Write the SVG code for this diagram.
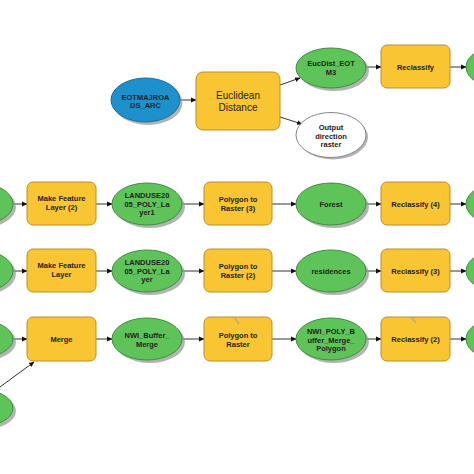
<svg xmlns="http://www.w3.org/2000/svg" width="474" height="474" viewBox="0 0 474 474">
<defs>
<marker id="ah" markerWidth="6" markerHeight="6" refX="5" refY="3" orient="auto" markerUnits="userSpaceOnUse">
<path d="M0,0.6 L5.5,3 L0,5.4 Z" fill="#111"/>
</marker>
</defs>
<style>
.tool{fill:#F9C532;stroke:#B99028;stroke-width:1}
.data{fill:#5EC45A;stroke:#3D8E3D;stroke-width:1}
.blue{fill:#1E90CC;stroke:#176C9C;stroke-width:1}
.white{fill:#FFFFFF;stroke:#888;stroke-width:1}
.sh{fill:#9a9a9a;opacity:0.75}
.t{font-family:"Liberation Sans",Arial,sans-serif;font-size:7.5px;font-weight:bold;fill:#222;text-anchor:middle}
.tb{font-family:"Liberation Sans",Arial,sans-serif;font-size:10px;fill:#222;text-anchor:middle}
.c{stroke:#333;stroke-width:1;fill:none;marker-end:url(#ah)}
.ic{stroke:#B8A98A;stroke-width:1.3;fill:none}
</style>
<rect width="474" height="474" fill="#fff"/>

<g id="connectors">
<line class="c" x1="180" y1="100" x2="196" y2="100"/>
<line class="c" x1="280" y1="85" x2="300" y2="78"/>
<line class="c" x1="280" y1="117" x2="302" y2="124"/>
<line class="c" x1="366" y1="67" x2="381" y2="67"/>
<line class="c" x1="450" y1="67" x2="466" y2="67"/>

<line class="c" x1="13" y1="204" x2="27" y2="204"/>
<line class="c" x1="96" y1="204" x2="112" y2="204"/>
<line class="c" x1="182" y1="204" x2="204" y2="204"/>
<line class="c" x1="272" y1="204" x2="296" y2="204"/>
<line class="c" x1="366" y1="204" x2="381" y2="204"/>
<line class="c" x1="450" y1="204" x2="466" y2="204"/>

<line class="c" x1="13" y1="271" x2="27" y2="271"/>
<line class="c" x1="96" y1="271" x2="112" y2="271"/>
<line class="c" x1="182" y1="271" x2="204" y2="271"/>
<line class="c" x1="272" y1="271" x2="296" y2="271"/>
<line class="c" x1="366" y1="271" x2="381" y2="271"/>
<line class="c" x1="450" y1="271" x2="466" y2="271"/>

<line class="c" x1="13" y1="339" x2="27" y2="339"/>
<line class="c" x1="96" y1="339" x2="112" y2="339"/>
<line class="c" x1="182" y1="339" x2="204" y2="339"/>
<line class="c" x1="272" y1="339" x2="296" y2="339"/>
<line class="c" x1="366" y1="339" x2="381" y2="339"/>
<line class="c" x1="450" y1="339" x2="466" y2="339"/>
<line class="c" x1="0" y1="387" x2="34" y2="362"/>
</g>

<!-- Row 1 -->
<g id="eotmajroads">
<ellipse class="sh" cx="148" cy="103" rx="34.5" ry="22"/>
<ellipse class="blue" cx="145.5" cy="100" rx="34.5" ry="22"/>
<text class="t" x="145.5" y="100">EOTMAJROA</text>
<text class="t" x="145.5" y="108">DS_ARC</text>
</g>
<g id="euclidean">
<rect class="tool" x="196" y="72" width="84" height="58" rx="7"/>
<text class="tb" x="238" y="99">Euclidean</text>
<text class="tb" x="238" y="111">Distance</text>
</g>
<g id="eucdist">
<ellipse class="sh" cx="334" cy="71" rx="35" ry="20"/>
<ellipse class="data" cx="331" cy="68" rx="35" ry="20"/>
<text class="t" x="331" y="66">EucDist_EOT</text>
<text class="t" x="331" y="74.5">M3</text>
</g>
<g id="outdir">
<ellipse class="sh" cx="333" cy="137" rx="35" ry="22.5"/>
<ellipse class="white" cx="331" cy="135" rx="35" ry="22.5"/>
<text class="t" x="331" y="130">Output</text>
<text class="t" x="331" y="138.5">direction</text>
<text class="t" x="331" y="147">raster</text>
</g>
<g id="reclassify1">
<rect class="tool" x="381" y="45" width="69" height="43" rx="6"/>
<text class="t" x="415.5" y="69.5">Reclassify</text>
</g>
<g id="out1">
<ellipse class="sh" cx="504" cy="70" rx="35" ry="21"/>
<ellipse class="data" cx="501" cy="67" rx="35" ry="21"/>
</g>

<!-- Row 2 -->
<g id="in2">
<ellipse class="sh" cx="-19" cy="207" rx="35" ry="21"/>
<ellipse class="data" cx="-22" cy="204" rx="35" ry="21"/>
</g>
<g id="mfl2">
<rect class="tool" x="27" y="182" width="69" height="43" rx="6"/>
<text class="t" x="61.5" y="201">Make Feature</text>
<text class="t" x="61.5" y="210">Layer (2)</text>
</g>
<g id="landuse1">
<ellipse class="sh" cx="150" cy="207" rx="35" ry="21"/>
<ellipse class="data" cx="147" cy="204" rx="35" ry="21"/>
<text class="t" x="147" y="198">LANDUSE20</text>
<text class="t" x="147" y="206.5">05_POLY_La</text>
<text class="t" x="147" y="215">yer1</text>
</g>
<g id="p2r3">
<rect class="tool" x="204" y="182" width="68" height="43" rx="6"/>
<text class="t" x="238" y="202">Polygon to</text>
<text class="t" x="238" y="210.5">Raster (3)</text>
</g>
<g id="forest">
<ellipse class="sh" cx="334" cy="207" rx="35" ry="21"/>
<ellipse class="data" cx="331" cy="204" rx="35" ry="21"/>
<text class="t" x="331" y="206.5">Forest</text>
</g>
<g id="reclassify4">
<rect class="tool" x="381" y="182" width="69" height="43" rx="6"/>
<text class="t" x="415.5" y="206.5">Reclassify (4)</text>
</g>
<g id="out2">
<ellipse class="sh" cx="504" cy="207" rx="35" ry="21"/>
<ellipse class="data" cx="501" cy="204" rx="35" ry="21"/>
</g>

<!-- Row 3 -->
<g id="in3">
<ellipse class="sh" cx="-19" cy="274" rx="35" ry="21"/>
<ellipse class="data" cx="-22" cy="271" rx="35" ry="21"/>
</g>
<g id="mfl">
<rect class="tool" x="27" y="249" width="69" height="43" rx="6"/>
<text class="t" x="61.5" y="268">Make Feature</text>
<text class="t" x="61.5" y="277">Layer</text>
</g>
<g id="landuse">
<ellipse class="sh" cx="150" cy="274" rx="35" ry="21"/>
<ellipse class="data" cx="147" cy="271" rx="35" ry="21"/>
<text class="t" x="147" y="265">LANDUSE20</text>
<text class="t" x="147" y="273.5">05_POLY_La</text>
<text class="t" x="147" y="282">yer</text>
</g>
<g id="p2r2">
<rect class="tool" x="204" y="249" width="68" height="43" rx="6"/>
<text class="t" x="238" y="269">Polygon to</text>
<text class="t" x="238" y="277.5">Raster (2)</text>
</g>
<g id="residences">
<ellipse class="sh" cx="334" cy="274" rx="35" ry="21"/>
<ellipse class="data" cx="331" cy="271" rx="35" ry="21"/>
<text class="t" x="331" y="273.5">residences</text>
</g>
<g id="reclassify3">
<rect class="tool" x="381" y="249" width="69" height="43" rx="6"/>
<text class="t" x="415.5" y="273.5">Reclassify (3)</text>
</g>
<g id="out3">
<ellipse class="sh" cx="504" cy="274" rx="35" ry="21"/>
<ellipse class="data" cx="501" cy="271" rx="35" ry="21"/>
</g>

<!-- Row 4 -->
<g id="in4">
<ellipse class="sh" cx="-19" cy="342" rx="35" ry="19"/>
<ellipse class="data" cx="-22" cy="339" rx="35" ry="19"/>
</g>
<g id="in5">
<ellipse class="sh" cx="-19" cy="411" rx="35" ry="19"/>
<ellipse class="data" cx="-22" cy="408" rx="35" ry="19"/>
</g>
<g id="merge">
<rect class="tool" x="27" y="317" width="69" height="44" rx="6"/>
<text class="t" x="61.5" y="342">Merge</text>
</g>
<g id="nwibuffer">
<ellipse class="sh" cx="150" cy="342" rx="35" ry="21"/>
<ellipse class="data" cx="147" cy="339" rx="35" ry="21"/>
<text class="t" x="147" y="338">NWI_Buffer_</text>
<text class="t" x="147" y="346.5">Merge</text>
</g>
<g id="p2r">
<rect class="tool" x="204" y="317" width="68" height="44" rx="6"/>
<path class="ic" d="M234,317 L239,324"/>
<text class="t" x="238" y="338">Polygon to</text>
<text class="t" x="238" y="346.5">Raster</text>
</g>
<g id="nwipoly">
<ellipse class="sh" cx="334" cy="342" rx="35" ry="21"/>
<ellipse class="data" cx="331" cy="339" rx="35" ry="21"/>
<text class="t" x="331" y="334">NWI_POLY_B</text>
<text class="t" x="331" y="342.5">uffer_Merge_</text>
<text class="t" x="331" y="351">Polygon</text>
</g>
<g id="reclassify2">
<rect class="tool" x="381" y="317" width="69" height="44" rx="6"/>
<path class="ic" d="M411,317 L416,323"/>
<text class="t" x="415.5" y="342">Reclassify (2)</text>
</g>
<g id="out4">
<ellipse class="sh" cx="504" cy="342" rx="35" ry="21"/>
<ellipse class="data" cx="501" cy="339" rx="35" ry="21"/>
</g>
</svg>
